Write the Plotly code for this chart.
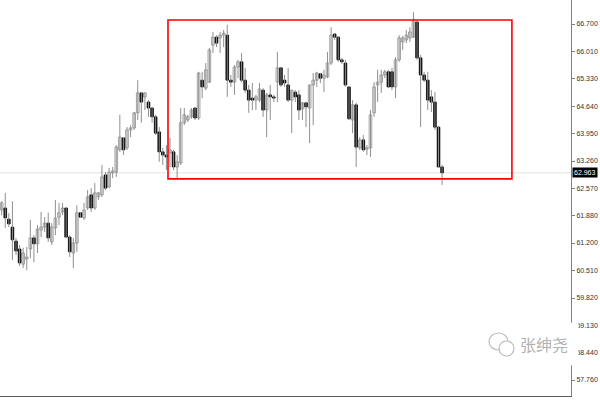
import plotly.graph_objects as go

# ---- data (price per bar) ----
opens = [62.03, 62.08, 61.80, 61.60, 61.25, 61.05, 60.67, 60.80, 61.05, 61.33,
         61.18, 61.53, 61.60, 61.70, 61.23, 61.58, 61.85, 61.98, 62.08, 61.35,
         60.95, 61.20, 61.96, 61.83, 62.08, 62.41, 62.08, 62.36, 62.41, 62.91,
         62.61, 62.96, 62.98, 63.54, 63.84, 63.59, 64.04, 64.09, 64.47, 64.97,
         64.87, 64.74, 64.59, 64.37, 63.99, 63.49, 63.41, 63.46, 63.49, 63.11,
         63.21, 64.22, 64.29, 64.37, 64.59, 64.34, 65.29, 65.09, 65.24, 66.17,
         66.37, 66.35, 66.42, 66.42, 65.29, 65.24, 65.62, 65.75, 65.29, 65.04,
         64.84, 64.79, 64.79, 65.04, 64.54, 64.92, 64.87, 65.24, 65.60, 65.29,
         65.17, 64.79, 64.99, 64.92, 64.57, 64.72, 64.59, 65.17, 65.29, 65.45,
         65.34, 65.37, 65.72, 66.45, 66.37, 65.80, 65.72, 65.12, 64.29, 64.67,
         63.59, 63.79, 63.56, 63.59, 64.47, 65.17, 65.24, 65.42, 65.50, 65.50,
         65.12, 65.80, 66.25, 66.30, 66.35, 66.37, 66.75, 65.85, 65.42, 65.29,
         64.87, 64.74, 64.11, 63.11]
highs = [62.25, 62.46, 61.95, 62.25, 61.33, 61.15, 61.08, 61.10, 61.78, 61.40,
         61.65, 61.98, 61.85, 61.96, 61.70, 62.28, 62.21, 62.21, 62.10, 61.40,
         61.33, 62.15, 61.98, 62.21, 62.53, 62.58, 62.71, 62.48, 63.16, 62.98,
         63.09, 63.11, 63.66, 64.42, 63.86, 64.11, 64.16, 64.49, 65.29, 64.99,
         64.99, 64.79, 64.62, 64.42, 64.11, 63.59, 63.66, 63.84, 63.54, 63.41,
         64.59, 64.59, 64.42, 64.59, 64.62, 65.50, 65.50, 65.72, 66.10, 66.50,
         66.42, 66.50, 66.55, 66.68, 65.42, 65.67, 65.80, 65.97, 65.60, 65.17,
         65.22, 64.92, 65.22, 65.09, 64.97, 65.17, 64.92, 66.00, 65.62, 65.42,
         65.60, 65.04, 65.04, 65.04, 64.74, 64.74, 65.17, 65.47, 65.50, 65.47,
         65.55, 66.00, 66.62, 66.47, 66.40, 65.85, 65.80, 65.14, 64.79, 64.72,
         63.86, 63.91, 63.66, 64.54, 65.24, 65.55, 65.55, 65.55, 65.55, 65.60,
         65.87, 66.42, 66.40, 66.55, 66.62, 67.00, 66.80, 65.92, 65.50, 65.50,
         65.04, 64.99, 64.14, 63.16]
lows = [61.90, 61.58, 61.60, 60.77, 60.90, 60.62, 60.57, 60.52, 60.82, 60.72,
        60.95, 61.35, 61.48, 61.23, 61.15, 61.40, 61.65, 61.90, 61.33, 60.85,
        60.57, 60.98, 61.83, 61.78, 62.03, 61.98, 62.03, 62.28, 62.36, 62.53,
        62.58, 62.83, 62.86, 63.49, 63.41, 63.54, 63.86, 64.04, 64.29, 64.22,
        64.54, 64.37, 64.22, 63.91, 63.24, 63.16, 63.03, 63.11, 63.03, 62.83,
        63.16, 64.16, 64.24, 64.32, 64.29, 64.29, 64.84, 65.04, 65.22, 65.97,
        66.12, 65.97, 66.12, 64.87, 65.12, 64.92, 65.34, 65.24, 64.97, 64.47,
        64.54, 64.54, 64.74, 64.37, 63.86, 64.29, 64.74, 64.74, 65.12, 65.12,
        64.74, 63.96, 64.74, 64.29, 64.29, 64.11, 63.71, 64.16, 65.12, 65.22,
        64.99, 65.34, 65.67, 66.30, 65.75, 65.70, 65.12, 64.29, 63.96, 63.11,
        63.54, 63.49, 63.41, 63.36, 64.37, 64.74, 64.97, 65.34, 65.09, 65.04,
        64.84, 65.75, 66.05, 66.22, 66.25, 66.35, 65.80, 64.11, 65.24, 64.54,
        64.49, 64.04, 63.09, 62.66]
closes = [62.21, 61.83, 61.68, 61.28, 61.00, 60.70, 60.95, 60.85, 61.33, 61.18,
          61.55, 61.60, 61.70, 61.33, 61.60, 61.83, 61.96, 62.08, 61.35, 60.98,
          61.20, 61.96, 61.85, 62.03, 62.36, 62.08, 62.46, 62.46, 62.86, 62.58,
          62.98, 63.01, 63.61, 63.86, 63.54, 64.04, 64.09, 64.47, 64.97, 64.74,
          64.97, 64.59, 64.37, 63.96, 63.49, 63.41, 63.36, 63.54, 63.11, 63.24,
          64.22, 64.42, 64.37, 64.54, 64.34, 65.47, 65.12, 65.55, 66.05, 66.37,
          66.22, 66.42, 66.47, 65.29, 65.24, 65.62, 65.75, 65.29, 65.04, 64.79,
          64.79, 64.87, 65.07, 64.54, 64.92, 64.87, 64.84, 65.60, 65.17, 65.22,
          64.79, 65.04, 64.87, 64.54, 64.72, 64.62, 65.17, 65.29, 65.47, 65.34,
          65.42, 65.72, 66.42, 66.37, 65.80, 65.75, 65.17, 64.32, 64.67, 63.61,
          63.79, 63.54, 63.59, 64.42, 65.12, 65.24, 65.42, 65.50, 65.12, 65.12,
          65.80, 66.35, 66.35, 66.42, 66.50, 66.80, 65.85, 65.42, 65.29, 64.79,
          64.74, 64.11, 63.11, 62.963]

tick_vals = [66.700, 66.010, 65.330, 64.640, 63.950, 63.260, 62.570,
             61.880, 61.200, 60.510, 59.820, 59.130, 58.440, 57.760]
tick_text = ["%.3f" % v for v in tick_vals]
last_price = 62.963
box_bars = (46.45, 142.5)
box_prices = (62.81, 66.80)
watermark = "张绅尧"

n = len(opens)
idx = list(range(n))

# wicks
wx, wy = [], []
for i in idx:
    wx += [i, i, None]
    wy += [lows[i], highs[i], None]

bull = [i for i in idx if closes[i] >= opens[i]]
bear = [i for i in idx if closes[i] < opens[i]]

def body(ids):
    base = [min(opens[i], closes[i]) for i in ids]
    h = [max(abs(closes[i] - opens[i]), 0.03) for i in ids]
    return base, h

fig = go.Figure()
fig.add_trace(go.Scatter(x=wx, y=wy, mode="lines",
                         line=dict(color="#8f8f8f", width=1), hoverinfo="skip"))
bb, bh = body(bull)
fig.add_trace(go.Bar(x=bull, base=bb, y=bh, width=0.74,
                     marker=dict(color="white", line=dict(color="#8a8a8a", width=0.8))))
db, dh = body(bear)
fig.add_trace(go.Bar(x=bear, base=db, y=dh, width=0.74,
                     marker=dict(color="black", line=dict(color="black", width=0.8))))

W, H = 600, 400
ml, mr, mt, mb = 0, 29, 0, 4
pw, ph = W - ml - mr, H - mt - mb

def px(x):
    return x / pw

def py(y):
    return 1 - y / ph

shapes = [
    dict(type="line", xref="paper", yref="y", x0=0, x1=1, y0=last_price, y1=last_price,
         line=dict(color="#e2e2e2", width=1), layer="below"),
    dict(type="rect", xref="x", yref="y", x0=box_bars[0], x1=box_bars[1],
         y0=box_prices[0], y1=box_prices[1], line=dict(color="#ff0000", width=1.6)),
    # wechat-like icon
    dict(type="circle", xref="paper", yref="paper", x0=px(489), x1=px(508),
         y0=py(350), y1=py(333), line=dict(color="#bcbcbc", width=1.2), fillcolor="white"),
    dict(type="circle", xref="paper", yref="paper", x0=px(499), x1=px(514),
         y0=py(356), y1=py(341), line=dict(color="#bcbcbc", width=1.2), fillcolor="white"),
]

fig.update_layout(
    width=W, height=H, margin=dict(l=ml, r=mr, t=mt, b=mb),
    paper_bgcolor="white", plot_bgcolor="white", showlegend=False,
    barmode="overlay", shapes=shapes,
    xaxis=dict(range=[-0.47, 159.0], showgrid=False, zeroline=False,
               showticklabels=False, ticks="", showline=True,
               linecolor="#5a5a5a", linewidth=1),
    yaxis=dict(side="right", range=[57.359, 67.303], tickvals=tick_vals,
               ticktext=tick_text, ticks="outside", ticklen=3, tickcolor="#808080",
               showline=True, linecolor="#808080", linewidth=1,
               showgrid=False, zeroline=False,
               tickfont=dict(family="Liberation Sans", size=7, color="#333333")),
    annotations=[
        dict(xref="paper", yref="y", x=1, y=last_price, xanchor="left", yanchor="middle",
             xshift=1, text="%.3f" % last_price, showarrow=False, bgcolor="black",
             borderpad=1, font=dict(family="Liberation Sans", size=7, color="white")),
        dict(xref="paper", yref="paper", x=px(579), y=py(344), xanchor="right",
             yanchor="middle", width=58, height=42, align="left", text=watermark,
             showarrow=False, bgcolor="white", borderpad=0,
             font=dict(family="Noto Sans CJK SC", size=16, color="#b2b2b2")),
    ],
)

fig.write_html("out.html", config={"displayModeBar": False},
               post_script="document.body.style.margin='0';document.body.style.overflow='hidden';")
